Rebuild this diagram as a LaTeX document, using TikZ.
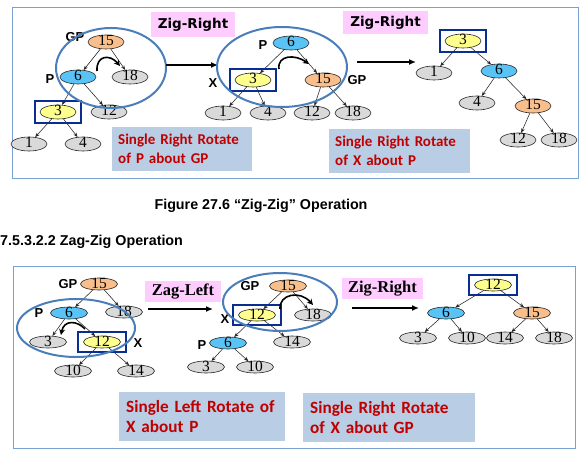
\documentclass[tikz,border=0pt]{standalone}
\usepackage{fontspec}
\setmainfont{Liberation Serif}
\newfontfamily\arialf{Liberation Sans}
\newfontfamily\calf{Carlito}
\newfontfamily\comicf{DejaVu Sans}
\usetikzlibrary{shapes.geometric,arrows.meta,fit}
\definecolor{norange}{RGB}{248,190,140}
\definecolor{nblue}{RGB}{90,195,245}
\definecolor{nyellow}{RGB}{255,255,140}
\definecolor{ngray}{RGB}{217,217,217}
\definecolor{ellcol}{RGB}{74,126,187}
\definecolor{hboxcol}{RGB}{10,45,145}
\definecolor{capfill}{RGB}{185,205,228}
\definecolor{captext}{RGB}{192,0,0}
\definecolor{pinkfill}{RGB}{255,204,255}
\definecolor{framecol}{RGB}{120,160,210}
\tikzset{
  tn/.style={ellipse, draw=black!85, line width=0.6pt, fill=ngray, minimum width=36pt, minimum height=14pt,
    inner sep=0pt, text height=8pt, text depth=0pt, font=\fontsize{15.5}{15}\selectfont},
  tnb/.style={tn, minimum width=37pt, minimum height=12pt},
  orn/.style={fill=norange}, bln/.style={fill=nblue}, yln/.style={fill=nyellow},
  treeedge/.style={draw=black!85, line width=0.55pt, -{Stealth[length=4.5pt,width=3.5pt]}},
  bigell/.style={draw=ellcol, line width=2pt},
  hbox/.style={draw=hboxcol, line width=2pt, rectangle, inner xsep=5pt, inner ysep=4pt},
  rotarrow/.style={line width=1.6pt, -{Stealth[length=6pt,width=6pt]}},
  transarrow/.style={line width=1.5pt, -{Latex[length=7pt,width=6pt]}},
  lbl/.style={font=\arialf\bfseries\fontsize{13}{13}\selectfont, inner sep=0pt},
  capbox/.style={fill=capfill, text=captext, font=\calf\bfseries\fontsize{15}{19}\selectfont, align=left, anchor=north west, inner xsep=6pt, inner ysep=0pt},
  zigc/.style={fill=pinkfill, font=\comicf\bfseries\fontsize{13.5}{14}\selectfont, inner sep=0pt},
  zigt/.style={fill=pinkfill, font=\bfseries\fontsize{16.5}{17}\selectfont, inner sep=0pt},
  panelframe/.style={draw=framecol, line width=0.8pt}
}
\begin{document}
\begin{tikzpicture}[x=1pt,y=-1pt]
\useasboundingbox (0,0) rectangle (586,465);
\fill[white] (0,0) rectangle (586,465);
% frames
\draw[panelframe] (12,7) rectangle (578,178);
\draw[panelframe] (13,266) rectangle (575,448);

% ===== top panel, tree A =====
\node[tn,orn] (a15) at (106,42) {15};
\node[tn] (a18) at (130,77) {18};
\node[tn,bln] (a6) at (78,77) {6};
\node[tn] (a12) at (109,112) {12};
\node[tn,yln] (a3) at (58,112) {3};
\node[tn] (a1) at (29,144) {1};
\node[tn] (a4) at (83,144) {4};
\foreach \p/\c in {a15/a6,a15/a18,a6/a3,a6/a12,a3/a1,a3/a4} \draw[treeedge] (\p) -- (\c);
\node[lbl] (aGP) at (75,37) {GP};
\node[lbl] (aP) at (50,79) {P};
\node[hbox, fit=(a3)] (ab) {};
\draw[bigell] (111,68) ellipse [x radius=55pt, y radius=40pt];
\draw[rotarrow] (97,71) .. controls (96,55) and (110,54) .. (120,66);

% labels/arrows top
\node[zigc, minimum width=84pt, minimum height=25pt] (z1) at (193,24.5) {Zig-Right};
\coordinate (t1s) at (166,65); \coordinate (t1e) at (218,65);
\draw[transarrow] (t1s) -- (t1e);
\node[zigc, minimum width=85pt, minimum height=23pt] (z2) at (385.5,23) {Zig-Right};
\coordinate (t2s) at (357,62); \coordinate (t2e) at (416,62);
\draw[transarrow] (t2s) -- (t2e);

% ===== tree B =====
\node[tn,bln] (b6) at (291,43) {6};
\node[tn,yln] (b3) at (253,80) {3};
\node[tn,orn] (b15) at (323,80) {15};
\node[tn] (b1) at (223,113) {1};
\node[tn] (b4) at (268,113) {4};
\node[tn] (b12) at (312,113) {12};
\node[tn] (b18) at (353,113) {18};
\foreach \p/\c in {b6/b3,b6/b15,b3/b1,b3/b4,b15/b12,b15/b18} \draw[treeedge] (\p) -- (\c);
\node[lbl] (bP) at (263,45) {P};
\node[lbl] (bX) at (213,83) {X};
\node[lbl] (bGP) at (357,80) {GP};
\node[hbox, fit=(b3)] (bb) {};
\draw[bigell] (282,67) ellipse [x radius=65pt, y radius=40pt];
\draw[rotarrow] (279,69) .. controls (277,55) and (295,54) .. (309,64);

% ===== tree C =====
\node[tn,yln] (c3) at (463,41) {3};
\node[tn] (c1) at (434,73) {1};
\node[tn,bln] (c6) at (499,71) {6};
\node[tn] (c4) at (477,103) {4};
\node[tn,orn] (c15) at (533,106) {15};
\node[tn] (c12) at (518,140) {12};
\node[tn] (c18) at (559,140) {18};
\foreach \p/\c in {c3/c1,c3/c6,c6/c4,c6/c15,c15/c12,c15/c18} \draw[treeedge] (\p) -- (\c);
\node[hbox, fit=(c3)] (cb) {};

% captions top
\node[capbox, text width=128pt, minimum height=44pt] (cap1) at (112,127) {Single Right Rotate\\of P about GP};
\node[capbox, text width=129pt, minimum height=44pt] (cap2) at (329,129) {Single Right Rotate\\of X about P};

% headings
\node[font=\arialf\bfseries\fontsize{14.3}{14}\selectfont, inner sep=0pt] (fig) at (261,206) {Figure 27.6 “Zig-Zig” Operation};
\node[font=\arialf\bfseries\fontsize{14.3}{14}\selectfont, inner sep=0pt, anchor=west] (sec) at (0,242) {7.5.3.2.2 Zag-Zig Operation};

% ===== bottom tree D =====
\node[tnb,orn] (d15) at (99,284) {15};
\node[tnb,bln] (d6) at (69,313) {6};
\node[tnb] (d18) at (124,312) {18};
\node[tnb] (d3) at (48,342) {3};
\node[tnb,yln] (d12) at (102,342) {12};
\node[tnb] (d10) at (73,371) {10};
\node[tnb] (d14) at (136,371) {14};
\foreach \p/\c in {d15/d6,d15/d18,d6/d3,d6/d12,d12/d10,d12/d14} \draw[treeedge] (\p) -- (\c);
\node[lbl] (dGP) at (68,284) {GP};
\node[lbl] (dP) at (39,313) {P};
\node[lbl] (dX) at (138,343) {X};
\node[hbox, fit=(d12)] (db) {};
\draw[bigell] (76,328) ellipse [x radius=59pt, y radius=29pt];
\draw[rotarrow] (85,329) .. controls (78,321) and (64,319) .. (61,335);

\node[zigt, minimum width=76pt, minimum height=21pt] (z3) at (183,291.5) {Zag-Left};
\coordinate (t3s) at (148,309); \coordinate (t3e) at (213,309);
\draw[transarrow] (t3s) -- (t3e);
\node[zigt, minimum width=81pt, minimum height=21pt] (z4) at (382.5,288.5) {Zig-Right};
\coordinate (t4s) at (352,308); \coordinate (t4e) at (419,308);
\draw[transarrow] (t4s) -- (t4e);

% ===== tree E =====
\node[tnb,orn] (e15) at (288,286) {15};
\node[tnb,yln] (e12) at (257,315) {12};
\node[tnb] (e18) at (313,315) {18};
\node[tnb,bln] (e6) at (228,343) {6};
\node[tnb] (e14) at (292,342) {14};
\node[tnb] (e3) at (206,367) {3};
\node[tnb] (e10) at (255,367) {10};
\foreach \p/\c in {e15/e12,e15/e18,e12/e6,e12/e14,e6/e3,e6/e10} \draw[treeedge] (\p) -- (\c);
\node[lbl] (eGP) at (250,286) {GP};
\node[lbl] (eX) at (225,319) {X};
\node[lbl] (eP) at (202,345) {P};
\node[hbox, fit=(e12)] (eb) {};
\draw[bigell] (280,302) ellipse [x radius=57pt, y radius=29pt];
\draw[rotarrow] (280,309) .. controls (279,294) and (300,290) .. (313,305);

% ===== tree F =====
\node[tnb,yln] (f12) at (493,285) {12};
\node[tnb,bln] (f6) at (446,313) {6};
\node[tnb,orn] (f15) at (532,313) {15};
\node[tnb] (f3) at (418,338) {3};
\node[tnb] (f10) at (467,338) {10};
\node[tnb] (f14) at (505,338) {14};
\node[tnb] (f18) at (554,338) {18};
\foreach \p/\c in {f12/f6,f12/f15,f6/f3,f6/f10,f15/f14,f15/f18} \draw[treeedge] (\p) -- (\c);
\node[hbox, fit=(f12)] (fb) {};

% captions bottom
\node[capbox, inner xsep=7pt, text width=152pt, minimum height=49pt, font=\calf\bfseries\fontsize{17.2}{20}\selectfont] (cap3) at (119,392) {Single Left Rotate of\\X about P};
\node[capbox, inner xsep=7pt, text width=158pt, minimum height=49pt, font=\calf\bfseries\fontsize{17.2}{20}\selectfont] (cap4) at (303,393) {Single Right Rotate\\of X about GP};
\end{tikzpicture}
\end{document}
